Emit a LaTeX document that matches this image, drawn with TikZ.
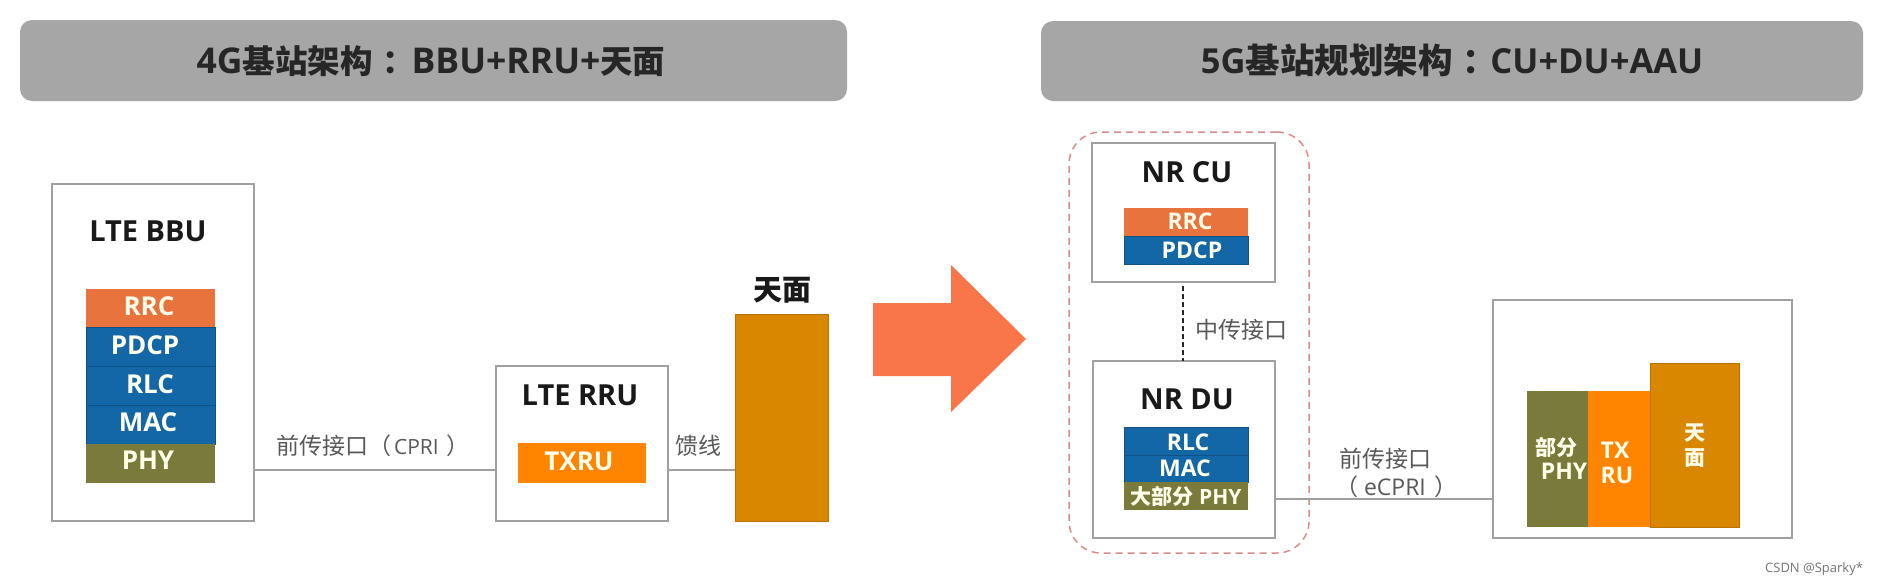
\documentclass[tikz,border=0pt]{standalone}
\usepackage{fontspec}
\setmainfont{Open Sans}
\newfontfamily\cjk{Noto Sans CJK SC}
\usetikzlibrary{calc}
\definecolor{titlegrey}{HTML}{A6A6A6}
\definecolor{framegrey}{HTML}{A0A0A0}
\definecolor{rrcor}{HTML}{E8733C}
\definecolor{layblue}{HTML}{1467A6}
\definecolor{phyol}{HTML}{7A7A3A}
\definecolor{txor}{HTML}{FF8400}
\definecolor{antor}{HTML}{D98600}
\definecolor{arrowor}{HTML}{F8764A}
\definecolor{txtgrey}{HTML}{595959}
\definecolor{dashred}{HTML}{D98A8A}
\newcommand{\fs}[1]{\fontsize{#1}{#1}\selectfont}
\newcommand{\bx}[6]{% name,x1,y1,x2,y2,style
  \pgfmathsetmacro{\bw}{#4-#2}\pgfmathsetmacro{\bh}{#5-#3}
  \node[#6,minimum width=\bw pt,minimum height=\bh pt] (#1) at ({(#2+#4)/2},{(#3+#5)/2}) {};}
\tikzset{
  x=1pt,y=-1pt,
  every node/.style={inner sep=0pt,outer sep=0pt},
  titlebar/.style={rectangle,rounded corners=12pt,fill=titlegrey},
  frame/.style={rectangle,draw=framegrey,line width=1.6pt,fill=white},
  orange/.style={rectangle,fill=rrcor},
  blue/.style={rectangle,fill=layblue,draw=layblue!80!black,line width=.5pt},
  olive/.style={rectangle,fill=phyol},
  txru/.style={rectangle,fill=txor},
  ant/.style={rectangle,fill=antor,draw=antor!85!black,line width=.8pt},
  group/.style={rectangle,rounded corners=32pt,draw=dashred,line width=1.5pt,dash pattern=on 7pt off 5pt},
  link/.style={draw=framegrey,line width=1.6pt},
  head/.style={font=\bfseries,text=black!85},
  boxlabel/.style={font=\fs{29}\bfseries,text=black!90},
  lay/.style={font=\fs{26}\bfseries,text=white!92!yellow},
  small/.style={font=\fs{23}\bfseries,text=white!92!yellow},
  tiny/.style={font=\fs{21}\bfseries,text=white!92!yellow},
  note/.style={font=\fs{23},text=txtgrey},
}
\begin{document}
\begin{tikzpicture}
\useasboundingbox (0,0) rectangle (1879,584);
\fill[white] (0,0) rectangle (1879,584);
% titles
\bx{t4}{20}{20}{847}{101}{titlebar}
\bx{t5}{1041}{21}{1863}{101}{titlebar}
\node[head] (t4l) at (431,61) {\fs{35.5}4G{\fs{32.5}\cjk 基站架构\kern.3em：\kern-.1em}\fs{35.5}BBU+RRU+{\fs{32.5}\cjk 天面}};
\node[head] (t5l) at (1452,60) {\fs{34.5}5G{\cjk 基站规划架构\kern.3em：\kern-.2em}CU+DU+AAU};
% 4G
\bx{bbu}{52}{184}{254}{521}{frame}
\node[boxlabel] (bbul) at (148,231) {LTE BBU};
\bx{rrc}{86}{289}{215}{327}{orange}
\bx{pdcp}{86}{327}{215}{366}{blue}
\bx{rlc}{86}{366}{215}{405}{blue}
\bx{mac}{86}{405}{215}{444}{blue}
\bx{phy}{86}{444}{215}{483}{olive}
\node[lay] (rrcl) at (149,306) {RRC};
\node[lay] (pdcpl) at (145,345) {PDCP};
\node[lay] (rlcl) at (150,384) {RLC};
\node[lay] (macl) at (148,422) {MAC};
\node[lay] (phyl) at (148,460) {PHY};
\bx{rru}{496}{366}{668}{521}{frame}
\node[boxlabel] (rrul) at (580,395) {LTE RRU};
\bx{tx}{518}{443}{646}{483}{txru}
\node[lay] (txl) at (579,461) {TXRU};
\bx{ant4}{735}{314}{828}{521}{ant}
\node[boxlabel] (ant4l) at (782,290) {\cjk 天面};
\coordinate (fh4) at (0,470);
\draw[link] (bbu.east |- fh4) -- (rru.west |- fh4);
\draw[link] (rru.east |- fh4) -- (ant4.west |- fh4);
\node[note,anchor=west] (cpri) at (276,446) {{\cjk 前传接口（}\kern3pt{\fs{21}CPRI}\kern8pt{\cjk ）}};
\node[note] (feed) at (698,446) {\cjk 馈线};
% arrow
\fill[arrowor] (873,303) -- (951,303) -- (951,265) -- (1026,339) -- (951,412) -- (951,376) -- (873,376) -- cycle;
% 5G
\bx{grp}{1069}{132}{1309}{553}{group}
\bx{cu}{1092}{143}{1275}{282}{frame}
\node[boxlabel] (cul) at (1187,172) {NR CU};
\bx{cr}{1124}{208}{1248}{236}{orange}
\bx{cp}{1124}{236}{1248}{264}{blue}
\node[small] (crl) at (1190,221) {RRC};
\node[small] (cpl) at (1192,250) {PDCP};
\bx{du}{1093}{361}{1275}{538}{frame}
\node[boxlabel] (dul) at (1187,399) {NR DU};
\bx{dr}{1124}{427}{1248}{455}{blue}
\bx{dm}{1124}{455}{1248}{482}{blue}
\bx{dp}{1124}{482}{1248}{510}{olive}
\node[small] (drl) at (1188,442) {RLC};
\node[small] (dml) at (1185,468) {MAC};
\node[tiny] (dpl) at (1186,496) {{\cjk 大部分} PHY};
\coordinate (mid) at (1183,0);
\draw[black!85,line width=2.4pt,dash pattern=on 5pt off 3pt] (cu.south -| mid) ++(0,4) -- (du.north -| mid);
\node[note] (midl) at (1241,330) {\cjk 中传接口};
\bx{aau}{1493}{300}{1792}{538}{frame}
\coordinate (fh5) at (0,499);
\draw[link] (du.east |- fh5) -- (aau.west |- fh5);
\node[note] (ecl1) at (1385,459) {\cjk 前传接口};
\node[note,anchor=west] (ecl2) at (1335,487) {{\cjk （}\kern6pt eCPRI\kern9pt{\cjk ）}};
\bx{pp}{1527}{391}{1588}{527}{olive}
\bx{tr}{1588}{391}{1650}{527}{txru}
\bx{an}{1650}{363}{1739}{527}{ant}
\node[tiny] (ppl1) at (1556,447) {\cjk 部分};
\node[small] (ppl2) at (1564,471) {PHY};
\node[small] (trl1) at (1615,450) {TX};
\node[small] (trl2) at (1617,475) {RU};
\node[tiny] (anl1) at (1695,433) {\cjk 天};
\node[tiny] (anl2) at (1695,458) {\cjk 面};
\node[font=\fs{13},text=black!55,anchor=east] (wm) at (1863,569) {CSDN @Sparky*};
\end{tikzpicture}
\end{document}
